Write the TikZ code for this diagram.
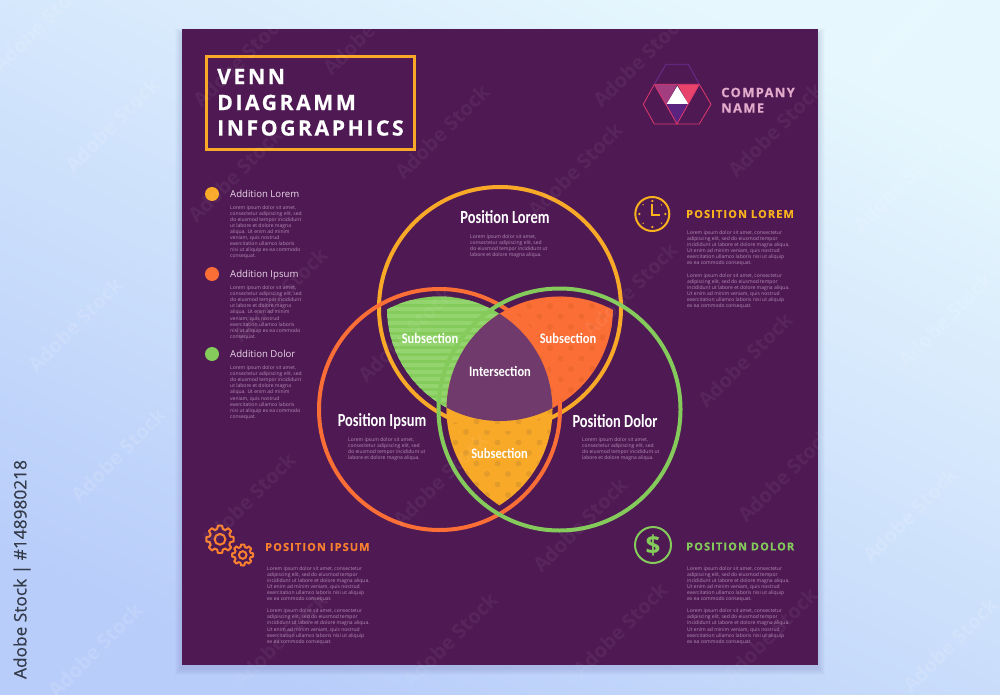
\documentclass[tikz,border=0pt]{standalone}
\usepackage{fontspec}
\setmainfont{Open Sans}
\newfontfamily\condf[FakeStretch=0.86]{Carlito}
\newfontfamily\condh[FakeStretch=0.78]{Carlito}
\newfontfamily\wide[LetterSpace=10,BoldFeatures={FakeBold=0.3}]{Open Sans}
\newfontfamily\widetitle[LetterSpace=12,BoldFeatures={FakeBold=0.6}]{Open Sans}
\newfontfamily\idfont[FakeBold=0.25]{Open Sans}
\definecolor{panel}{HTML}{4F1A54}
\definecolor{cyel}{HTML}{F9A928}
\definecolor{cclock}{HTML}{F9B21E}
\definecolor{cred}{HTML}{FB6F36}
\definecolor{cgear}{HTML}{F9802F}
\definecolor{cgrn}{HTML}{84CB5B}
\definecolor{cmid}{HTML}{713A6C}
\definecolor{bodyc}{HTML}{B48CB4}
\definecolor{addc}{HTML}{EAD6E8}
\definecolor{compc}{HTML}{E3ABCB}
\definecolor{bgA}{HTML}{B8CDFA}
\definecolor{bgB}{HTML}{E6F7FD}
\definecolor{logoA}{HTML}{A23D80}
\definecolor{logoB}{HTML}{E8436A}
\definecolor{logoC}{HTML}{5A2380}
\definecolor{logoD}{HTML}{E0386A}
\definecolor{logoE}{HTML}{6A2D90}
\definecolor{stripec}{HTML}{94D46E}
\definecolor{dotr}{HTML}{EE6830}
\definecolor{doty}{HTML}{E39B2A}
\definecolor{idc}{HTML}{333A48}
\tikzset{
 lbl/.style={inner sep=0pt,anchor=west},
 body/.style={inner sep=0pt,anchor=north west,align=left,text=bodyc,font=\fontsize{5.02}{6.12}\selectfont},
 vhead/.style={inner sep=0pt,text=white,font=\condh\bfseries\fontsize{18.5}{20}\selectfont},
 vsub/.style={inner sep=0pt,text=white,font=\condf\bfseries\fontsize{14.5}{16}\selectfont},
 head/.style={lbl,font=\wide\bfseries\fontsize{11}{13}\selectfont},
 addl/.style={lbl,text=addc,font=\fontsize{9.6}{12}\selectfont},
 bullet/.style={circle,inner sep=0pt,minimum size=14pt},
 ring/.style={line width=4pt},
 wm/.style={inner sep=0pt,rotate=45,font=\bfseries\fontsize{20}{22}\selectfont,text=white},
}
\newcommand{\wmback}{112/125,40/25,900/185,915/20,75/325,945/320,118/455,910/515,95/650,950/645}
\newcommand{\wmfront}{235/175,442/132,370/28,575/170,775/130,280/295,405/335,630/290,745/360,248/500,440/480,580/525,785/475,280/640,450/640,620/630,770/635,240/60,640/60}
\newcommand{\textA}{Lorem ipsum dolor sit amet, consectetur\\adipiscing elit, sed do eiusmod tempor\\incididunt ut labore et dolore magna aliqua.\\Ut enim ad minim veniam, quis nostrud\\exercitation ullamco laboris nisi ut aliquip\\ex ea commodo consequat.}
\newcommand{\textB}{Lorem ipsum dolor sit amet,\\consectetur adipiscing elit, sed\\do eiusmod tempor incididunt\\ut labore et dolore magna\\aliqua. Ut enim ad minim\\veniam, quis nostrud\\exercitation ullamco laboris\\nisi ut aliquip ex ea commodo\\consequat.}
\newcommand{\textC}{Lorem ipsum dolor sit amet,\\consectetur adipiscing elit, sed\\do eiusmod tempor incididunt ut\\labore et dolore magna aliqua.}
\newcommand{\dotgrid}[1]{%
 \foreach \r in {0,...,24}{\foreach \c in {0,...,16}{
  \pgfmathsetmacro{\dx}{340+\c*21+mod(\r,2)*10.5}
  \pgfmathsetmacro{\dy}{285+\r*10.5}
  \fill[#1] (\dx,\dy) circle[radius=2.9];
 }}}
\newcommand{\gearicon}[5]{% x y outer inner holeR
 \begin{scope}[shift={(#1,#2)}]
 \draw[cgear,line width=2pt,line join=round] (9:#3)
  \foreach \a in {0,45,...,315}{
   -- (\a+9:#3) -- (\a+15:#4) -- (\a+30:#4) -- (\a+36:#3)
  } -- cycle;
 \draw[cgear,line width=2pt] (0,0) circle[radius=#5];
 \end{scope}}
\begin{document}
\begin{tikzpicture}[x=1pt,y=-1pt]
\useasboundingbox (0,0) rectangle (1000,695);
\shade[shading=axis,bottom color=bgA,top color=bgB,shading angle=-25] (0,0) rectangle (1000,695);
\foreach \px/\py [count=\k] in \wmback {
  \node[wm,opacity=.13] (wmback\k) at (\px,\py) {Adobe Stock};
}
\foreach \s in {1,...,7}{
  \fill[black!60!blue,opacity=.016] (182-\s,29-\s+6) rectangle (818+\s,665+\s+3);
}
\fill[panel] (182,29) rectangle (818,665);
% title
\draw[cyel,line width=3pt] (206.5,57) rectangle (414.5,150);
\node[lbl,text=white,font=\widetitle\bfseries\fontsize{21.2}{24}\selectfont] (t1) at (217,76.5) {VENN};
\node[lbl,text=white,font=\widetitle\bfseries\fontsize{21.2}{24}\selectfont] (t2) at (217,102.5) {DIAGRAMM};
\node[lbl,text=white,font=\widetitle\bfseries\fontsize{21.2}{24}\selectfont] (t3) at (217,128) {INFOGRAPHICS};
% logo
\fill[logoA] (654.3,84.3) -- (677.3,84.3) -- (666.7,104) -- (677,124) -- cycle;
\fill[logoB] (677.3,84.3) -- (699.3,84.3) -- (688.3,104) -- cycle;
\fill[logoC] (666.7,104) -- (688.3,104) -- (677,124) -- cycle;
\fill[white] (677.3,86) -- (688.3,104) -- (666.7,104) -- cycle;
\draw[logoD,line width=.8pt,line join=round] (643.3,104.3) -- (654.3,84.3) -- (699.3,84.3) -- (711,104.3) -- (699.3,124) -- (654.3,124) -- cycle;
\draw[logoD,line width=.8pt] (654.3,84.3) -- (677,124) -- (699.3,84.3);
\draw[logoE,line width=.8pt,line join=round] (654.3,84.3) -- (666,64.3) -- (688.3,64.3) -- (699.3,84.3);
\node[lbl,text=compc,font=\wide\bfseries\fontsize{13}{15}\selectfont] (co1) at (721,92.5) {COMPANY};
\node[lbl,text=compc,font=\wide\bfseries\fontsize{13}{15}\selectfont] (co2) at (721,108) {NAME};
% left list
\node[bullet,fill=cyel] (b1) at (212,194) {};
\node[bullet,fill=cred] (b2) at (212,274) {};
\node[bullet,fill=cgrn] (b3) at (212,354) {};
\node[addl] (a1) at (230,193.7) {Addition Lorem};
\node[addl] (a2) at (230,275) {Addition Ipsum};
\node[addl] (a3) at (230,354) {Addition Dolor};
\node[body] (ab1) at (230,205) {\textB};
\node[body] (ab2) at (230,285.5) {\textB};
\node[body] (ab3) at (230,365.5) {\textB};
% venn regions
\begin{scope}
 \clip (500,308) circle[radius=113];
 \clip (439.5,409.5) circle[radius=113];
 \fill[cgrn] (370,280) rectangle (520,420);
 \foreach \i in {0,...,20}{\fill[stripec] (370,{293+\i*7}) rectangle (520,{296.5+\i*7});}
\end{scope}
\begin{scope}
 \clip (500,308) circle[radius=113];
 \clip (559.5,409.5) circle[radius=113];
 \fill[cred] (480,280) rectangle (630,420);
 \dotgrid{dotr}
\end{scope}
\begin{scope}
 \clip (439.5,409.5) circle[radius=113];
 \clip (559.5,409.5) circle[radius=113];
 \fill[cyel] (430,380) rectangle (570,530);
 \dotgrid{doty}
\end{scope}
\begin{scope}
 \clip (500,308) circle[radius=113];
 \clip (439.5,409.5) circle[radius=113];
 \clip (559.5,409.5) circle[radius=113];
 \fill[cmid] (430,300) rectangle (570,430);
\end{scope}
% rings
\draw[ring,cyel] (500,308) circle[radius=121];
\draw[ring,cred] (439.5,409.5) circle[radius=120.5];
\draw[ring,cgrn] (559.5,409.5) circle[radius=121];
% venn labels
\node[vhead] (p1) at (505,217) {Position Lorem};
\node[vhead] (p2) at (382,421) {Position Ipsum};
\node[vhead] (p3) at (615,421) {Position Dolor};
\node[body] (pb1) at (470,234) {\textC};
\node[body] (pb2) at (348,437) {\textC};
\node[body] (pb3) at (582,437) {\textC};
\node[vsub] (s1) at (430,338) {Subsection};
\node[vsub] (s2) at (568,338) {Subsection};
\node[vsub] (s3) at (499.5,453) {Subsection};
\node[vsub] (s4) at (500,371) {Intersection};
% clock
\begin{scope}[shift={(652.3,214)}]
\draw[cclock,line width=2pt] (0,0) circle[radius=17];
\draw[cclock,line width=2pt] (0,-10) -- (0,.7) -- (7.2,.7);
\foreach \a in {0,90,180,270}{\fill[cclock] (\a:13) circle[radius=1.2];}
\foreach \a in {45,135,225,315}{\fill[cclock] (\a:13) circle[radius=.7];}
\end{scope}
\node[head,text=cclock] (h1) at (686,214) {POSITION LOREM};
\node[body] (hb1) at (687,230.2) {\textA};
\node[body] (hb1b) at (687,273) {\textA};
% gears
\gearicon{220}{539.3}{13.8}{10.7}{5.4}
\gearicon{242.7}{555}{10.6}{8.2}{3.8}
\node[head,text=cgear] (h2) at (265,547) {POSITION IPSUM};
\node[body] (hb2) at (267,566) {\textA};
\node[body] (hb2b) at (267,608.7) {\textA};
% dollar
\draw[cgrn,line width=2pt] (653,545) circle[radius=18];
\node[inner sep=0pt,text=cgrn,font=\bfseries\fontsize{26}{28}\selectfont] (dol) at (653,545) {\$};
\node[head,text=cgrn] (h3) at (686,546.5) {POSITION DOLOR};
\node[body] (hb3) at (687,566) {\textA};
\node[body] (hb3b) at (687,608.7) {\textA};
% watermark on panel
\foreach \px/\py [count=\k] in \wmfront {
  \node[wm,opacity=.05] (wmfront\k) at (\px,\py) {Adobe Stock};
}
% stock id
\node[inner sep=0pt,rotate=90,text=idc,font=\idfont\fontsize{17.3}{20}\selectfont] (id) at (22,569.5) {Adobe Stock | \#148980218};
\end{tikzpicture}
\end{document}
